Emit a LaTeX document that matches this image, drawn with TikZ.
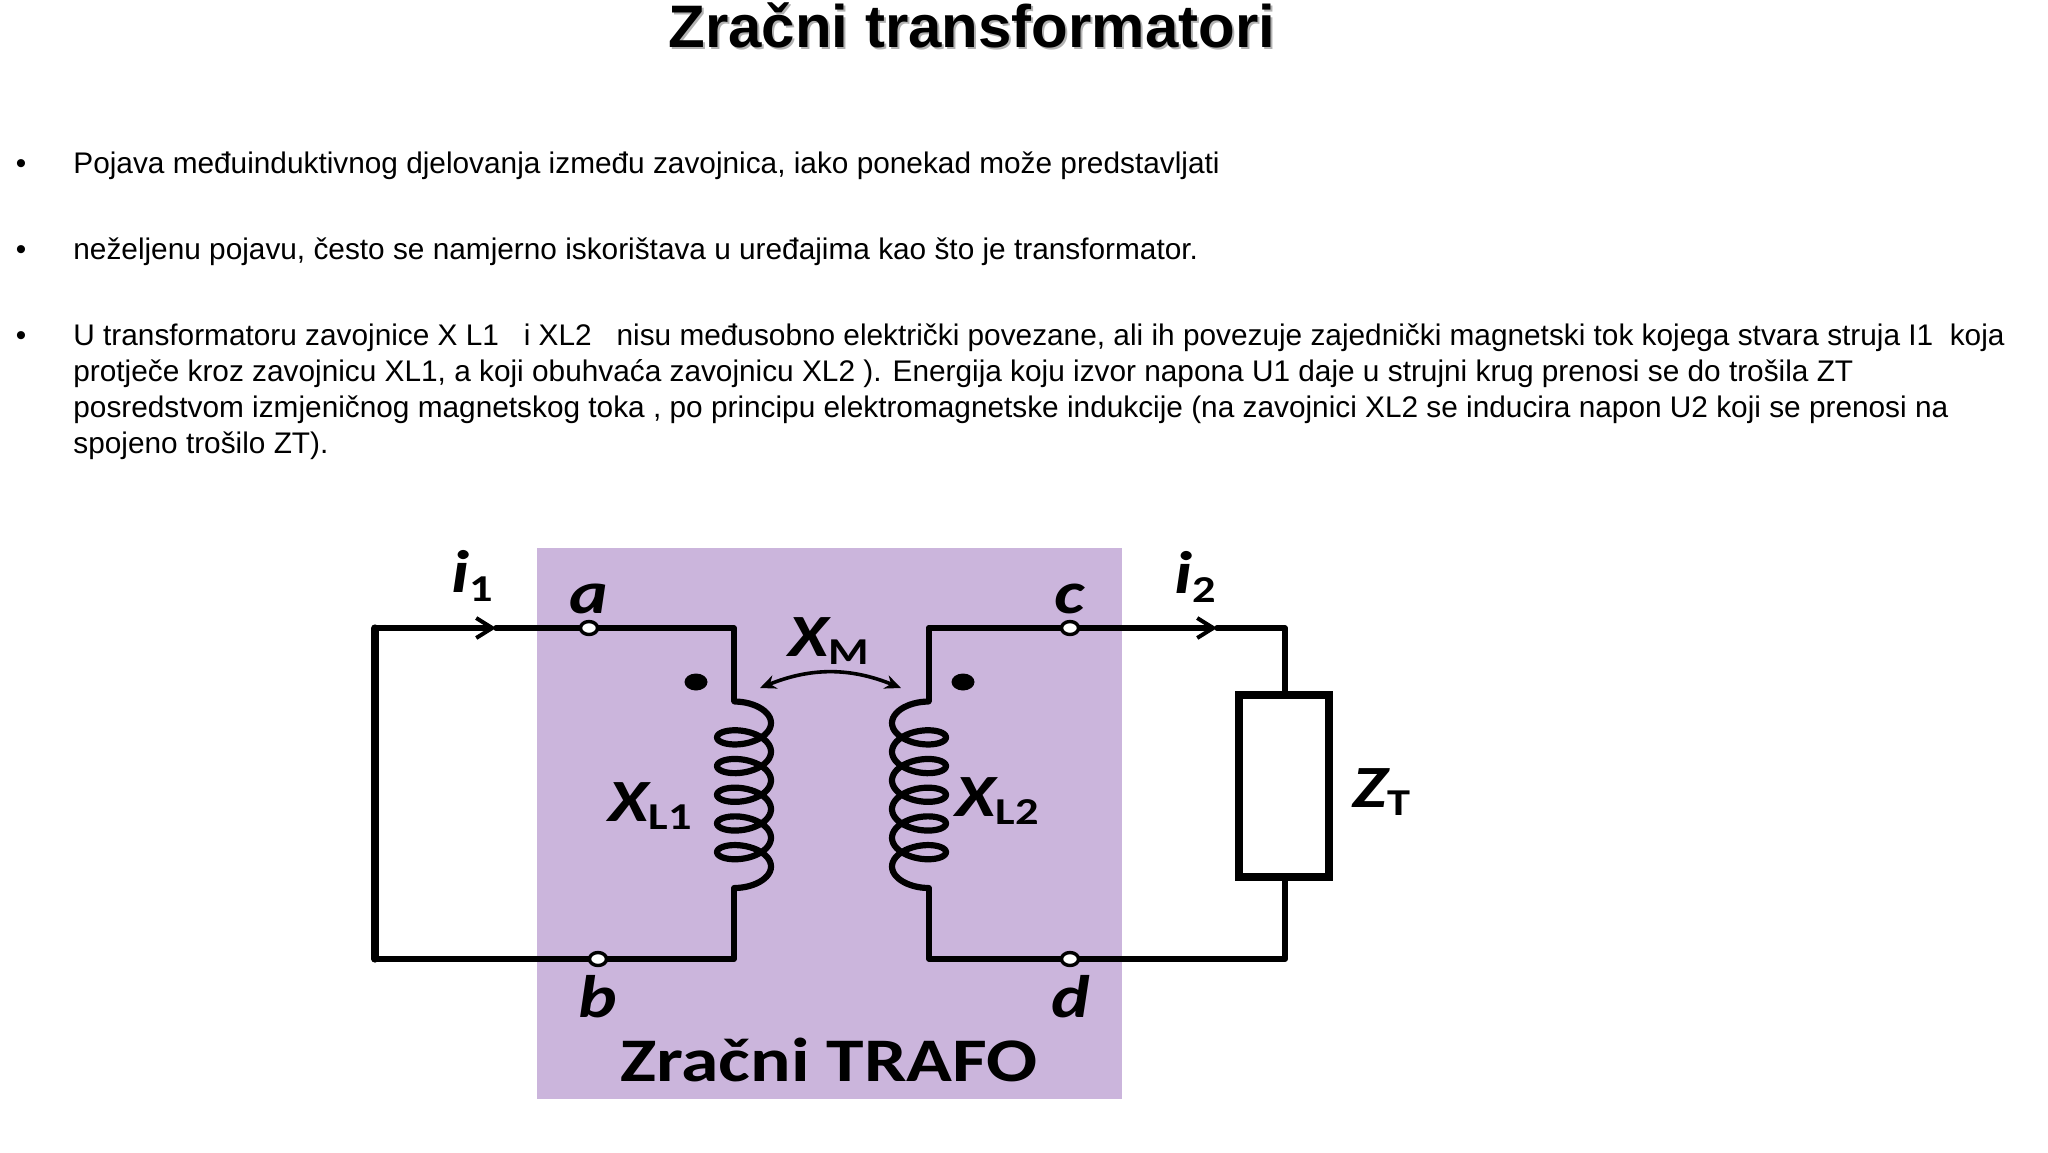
\documentclass[tikz,border=0pt]{standalone}
\usepackage{fontspec}
\usepackage{xcolor}
\usetikzlibrary{arrows.meta,shapes.geometric}
\setmainfont{Liberation Sans}
\newfontfamily\diagfont{Carlito}[FakeStretch=1.22]
\definecolor{trafopurple}{HTML}{CBB5DC}
\newcommand{\symlabel}[2]{{\itshape #1}\raisebox{-0.28ex}{\fontsize{19}{19}\selectfont #2}}

\begin{document}
\begin{tikzpicture}[x=0.5pt,y=-0.5pt]
	\tikzstyle{wire} = [draw=black, line width=2.9pt, line join=round, line cap=round]
	\tikzstyle{flow} = [wire, -{Straight Barb[length=8pt,width=10pt,line width=2pt]}]
	\tikzstyle{terminal} = [ellipse, draw=black, fill=white, line width=1.7pt, inner sep=0pt, minimum width=8.5pt, minimum height=6.5pt]
	\tikzstyle{polarity} = [ellipse, fill=black, inner sep=0pt, minimum width=11.5pt, minimum height=8.5pt]
	\tikzstyle{sym} = [inner sep=0pt, font=\diagfont\bfseries\fontsize{30}{30}\selectfont]
	\tikzstyle{bullet} = [anchor=base, inner sep=0pt, font=\fontsize{14.9}{18}\selectfont]
	\tikzstyle{bodytext} = [anchor=base west, inner sep=0pt, font=\fontsize{14.9}{18}\selectfont]
	\useasboundingbox (0,0) rectangle (2048,1152);

	% heading and text
	\node[inner sep=0pt, text=black!30, font=\bfseries\fontsize{30}{34}\selectfont] (headshadow) at (974,27) {Zračni transformatori};
	\node[inner sep=0pt, font=\bfseries\fontsize{30}{34}\selectfont] (head) at (972,25) {Zračni transformatori};
	\node[bullet] (dot1) at (21,173) {•};
	\node[bullet] (dot2) at (21,259) {•};
	\node[bullet] (dot3) at (21,345) {•};
	\node[bodytext] (line1) at (73,173) {Pojava međuinduktivnog djelovanja između zavojnica, iako ponekad može predstavljati};
	\node[bodytext] (line2) at (73,259) {neželjenu pojavu, često se namjerno iskorištava u uređajima kao što je transformator.};
	\node[bodytext] (line3) at (73,345) {U transformatoru zavojnice X L1\ \ \ i XL2\ \ \ nisu međusobno električki povezane, ali ih povezuje zajednički magnetski tok kojega stvara struja I1\ \ koja};
	\node[bodytext] (line4) at (73,381) {protječe kroz zavojnicu XL1, a koji obuhvaća zavojnicu XL2 ). Energija koju izvor napona U1 daje u strujni krug prenosi se do trošila ZT};
	\node[bodytext] (line5) at (73,417) {posredstvom izmjeničnog magnetskog toka , po principu elektromagnetske indukcije (na zavojnici XL2 se inducira napon U2 koji se prenosi na};
	\node[bodytext] (line6) at (73,453) {spojeno trošilo ZT).};

	% core
	\fill[trafopurple] (537,548) rectangle (1122,1099);

	% corners and coil ends
	\coordinate (tl) at (375,628);
	\coordinate (bl) at (375,959);
	\coordinate (tr) at (1285,628);
	\coordinate (br) at (1285,959);
	\coordinate (p1) at (734,628);
	\coordinate (p2) at (734,701);
	\coordinate (p3) at (734,888);
	\coordinate (p4) at (734,959);
	\coordinate (s1) at (929,628);
	\coordinate (s2) at (929,701);
	\coordinate (s3) at (929,888);
	\coordinate (s4) at (929,959);
	\coordinate (i1tip) at (496,628);
	\coordinate (i2tip) at (1217,628);
	\coordinate (xmleft) at (760,688);
	\coordinate (xmright) at (901,688);

	\node[draw=black, fill=white, line width=3.6pt, minimum width=45pt, minimum height=91pt, inner sep=0pt] (zt) at (1284,786) {};

	% circuit
	\draw[wire, line width=3.6pt] (tl) -- (bl);
	\draw[flow] (tl) -- (i1tip);
	\draw[wire] (i1tip) -- (p1) -- (p2);
	\draw[wire] (p3) -- (p4) -- (bl);
	\draw[flow] (s1) -- (i2tip);
	\draw[wire] (i2tip) -- (tr) -- (tr |- zt.north);
	\draw[wire] (s1) -- (s2);
	\draw[wire] (s3) -- (s4) -- (br) -- (br |- zt.south);

	% coils
	\foreach \xc/\sgn in {744/1,919/-1}
		\draw[wire, line width=3.1pt, smooth] plot[domain=-110:1910, samples=260]
			({\xc+\sgn*27*cos(\x)}, {723+28.7*(\x/360)+13.5*sin(\x)});

	\draw[line width=1.8pt, {Stealth[length=8pt,width=7pt]}-{Stealth[length=8pt,width=7pt]}] (xmleft) to[bend left=22] (xmright);

	\node[polarity] (dotp) at (696,682) {};
	\node[polarity] (dots) at (963,682) {};
	\node[terminal] (a) at (589,628) {};
	\node[terminal] (b) at (598,959) {};
	\node[terminal] (c) at (1070,628) {};
	\node[terminal] (d) at (1070,959) {};

	% labels
	\node[sym] (la) at (589,599) {\itshape a};
	\node[sym] (lb) at (598,997) {\itshape b};
	\node[sym] (lc) at (1070,599) {\itshape c};
	\node[sym] (ld) at (1071,997) {\itshape d};
	\node[sym] (li1) at (472,576) {\symlabel{i}{1}};
	\node[sym] (li2) at (1195,577) {\symlabel{i}{2}};
	\node[sym] (lxm) at (829,641) {\symlabel{X}{M}};
	\node[sym] (lxl1) at (650,806) {\symlabel{X}{L1}};
	\node[sym] (lxl2) at (997,801) {\symlabel{X}{L2}};
	\node[sym] (lzt) at (1381,792) {\symlabel{Z}{T}};
	\node[sym, font=\diagfont\bfseries\fontsize{31}{31}\selectfont] (name) at (829,1060) {Zračni TRAFO};
\end{tikzpicture}
\end{document}
